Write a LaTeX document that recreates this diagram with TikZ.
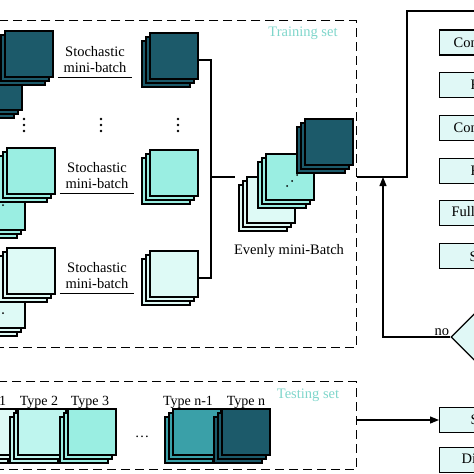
\documentclass[tikz,border=0pt]{standalone}
\usepackage{fontspec}
\setmainfont{Liberation Serif}
\usetikzlibrary{positioning,shapes.geometric,arrows.meta}

\definecolor{darkteal}{HTML}{1C5A6A}
\definecolor{midteal}{HTML}{3AA0A8}
\definecolor{aqua}{HTML}{9AEEE2}
\definecolor{paleaqua}{HTML}{BEF5EE}
\definecolor{lightaqua}{HTML}{DEFAF6}
\definecolor{boxfill}{HTML}{E0F8F6}
\definecolor{setlabel}{HTML}{7FD6CB}

\tikzset{
  fmap/.style={draw, line width=1.2pt, minimum width=48pt, minimum height=46pt, inner sep=0pt},
  setbox/.style={draw, line width=1.2pt, dash pattern=on 9pt off 5pt},
  layerbox/.style={draw, line width=1.2pt, fill=boxfill, minimum height=25pt, anchor=west},
  link/.style={line width=1.2pt},
  tip/.style={-{Triangle[length=9pt,width=7pt]}},
  sgdlabel/.style={text width=74pt, align=center, inner xsep=0pt, inner ysep=4pt},
  typelabel/.style={inner sep=0pt, font=\fontsize{14}{16}\selectfont},
}

% stack of feature maps: name, front centre, colour
\newcommand{\fmstack}[3]{%
  \node[fmap, fill=#3, xshift=-8pt, yshift=-8pt] at (#2) {};
  \node[fmap, fill=#3, xshift=-4pt, yshift=-4pt] at (#2) {};
  \node[fmap, fill=#3] (#1) at (#2) {};
}

\begin{document}
\begin{tikzpicture}[x=1pt, y=-1pt, font=\fontsize{14.5}{16}\selectfont]
\useasboundingbox (0,0) rectangle (474,474);
\clip (0,0) rectangle (474,474);

% training set
\node[setbox, minimum width=417pt, minimum height=327pt, anchor=north east] (train) at (357,20) {};
\node[text=setlabel] (trainlbl) at (303,33) {Training set};

\fmstack{b1}{-2,87}{darkteal}
\fmstack{a1}{29,54}{darkteal}
\fmstack{b2}{1,207}{aqua}
\fmstack{a2}{31,171}{aqua}
\fmstack{b3}{1,305}{lightaqua}
\fmstack{a3}{31,271}{lightaqua}
\fill (5,85) circle (1pt);
\fill (3,205) circle (1pt);
\fill (3,313) circle (1pt);

\fmstack{m1}{174,56}{darkteal}
\fmstack{m2}{174,173}{aqua}
\fmstack{m3}{174,274}{lightaqua}

\node[sgdlabel] (s1) at (95,60) {Stochastic\\mini-batch};
\node[sgdlabel] (s2) at (97,176) {Stochastic\\mini-batch};
\node[sgdlabel] (s3) at (97,276) {Stochastic\\mini-batch};
\draw[link] (s1.south west) -- (s1.south east);
\draw[link] (s2.south west) -- (s2.south east);
\draw[link] (s3.south west) -- (s3.south east);

% vertical dots
\foreach \x in {24,101,178}
  \foreach \y in {119,125,131}
    \fill (\x,\y) circle (1.3pt);

% evenly mini-batch
\fmstack{e1}{271,200}{lightaqua}
\fmstack{e2}{290,177}{aqua}
\fmstack{e3}{329,142}{darkteal}
\fill (287,186) circle (1pt);
\fill (292,181) circle (1pt);
\fill (297,175) circle (1pt);
\node (evenlbl) at (289,251) {Evenly mini-Batch};

\coordinate (join) at (211,177);
\coordinate (evenin) at (235,177);
\draw[link] ([yshift=-4pt]m1.east) -| (join) |- ([yshift=-4pt]m3.east);
\draw[link] (join) -- (evenin);

% loop to the network
\coordinate (loopin) at (383,177);
\coordinate (topturn) at (407,11);
\coordinate (topout) at (490,11);
\draw[link] (train.east |- join) -| (topturn) -- (topout);

\node[layerbox, inner xsep=14pt] (conv1) at (439,42.5) {Convolution};
\node[layerbox, inner xsep=31pt, below=16.5pt of conv1.south west, anchor=north west] (relu1) {ReLU};
\node[layerbox, inner xsep=14pt, below=16.5pt of relu1.south west, anchor=north west] (conv2) {Convolution};
\node[layerbox, inner xsep=31pt, below=16.5pt of conv2.south west, anchor=north west] (relu2) {ReLU};
\node[layerbox, inner xsep=12pt, below=16.5pt of relu2.south west, anchor=north west] (fc) {Fully connected};
\node[layerbox, inner xsep=30pt, below=16.5pt of fc.south west, anchor=north west] (soft) {Softmax};

\node[diamond, draw, line width=1.2pt, fill=boxfill, minimum width=80pt, minimum height=80pt, inner sep=0pt] (check) at (491,337) {};
\draw[link, tip] (check.west) -| (loopin);
\node[inner sep=1pt, above left=0pt of check.west] (nolbl) {no};

% testing set
\node[setbox, minimum width=417pt, minimum height=88pt, anchor=north east] (test) at (357,381) {};
\node[text=setlabel] (testlbl) at (308,395) {Testing set};

\fmstack{t1}{-8,432}{lightaqua}
\fmstack{t2}{42,432}{paleaqua}
\fmstack{t3}{92,432}{aqua}
\fmstack{tn1}{197,432}{midteal}
\fmstack{tn}{246,432}{darkteal}
\node[typelabel] (lt1) at (-13,402) {Type 1};
\node[typelabel] (lt2) at (39,402) {Type 2};
\node[typelabel] (lt3) at (90,402) {Type 3};
\node[typelabel] (ltn1) at (188,402) {Type n-1};
\node[typelabel] (ltn) at (246,402) {Type n};
\node (tdots) at (142,437) {\dots};

\node[layerbox, inner xsep=31pt] (model) at (439,420) {Saved model};
\node[layerbox, inner xsep=22pt, below=14pt of model.south west, anchor=north west] (diag) {Diagnosis results};
\draw[link, tip] (test.east |- model.west) -- (model.west);
\end{tikzpicture}
\end{document}
